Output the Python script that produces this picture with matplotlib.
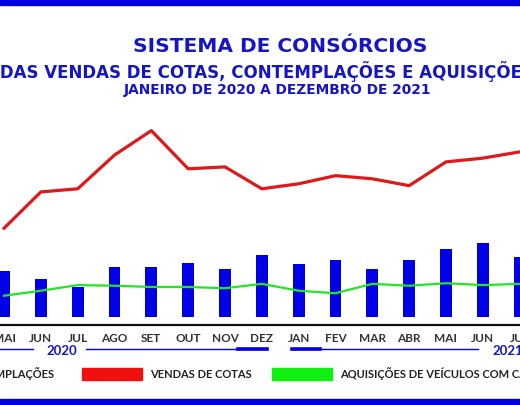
import matplotlib
matplotlib.use("Agg")
import matplotlib.pyplot as plt
from matplotlib.patches import Rectangle

# meses visiveis (mai/2020 a jul/2021)
meses = ["MAI", "JUN", "JUL", "AGO", "SET", "OUT", "NOV", "DEZ",
         "JAN", "FEV", "MAR", "ABR", "MAI", "JUN", "JUL"]
# valores estimados (mil)
contemplacoes = [74, 61, 48, 80, 80, 86, 77, 99, 85, 91, 77, 91, 109, 118, 96]
vendas_cotas = [142, 200, 205, 259, 298, 237, 240, 205, 213, 226, 221, 210, 248, 254, 264]
aquisicoes = [34, 42, 51, 50, 48, 48, 46, 53, 42, 38, 53, 50, 54, 51, 53]

AZUL = "#0000E6"
AZUL_TIT = "#1515C8"
VERMELHO = "#E01818"
VERDE = "#22E622"

W, H = 520, 405
fig = plt.figure(figsize=(W / 100, H / 100), dpi=100)
fig.patch.set_facecolor("white")

def px(x, y):
    return x / W, 1 - y / H

# eixo principal: y 110..325 px
ax = fig.add_axes([0, (H - 325) / H, 1, 215 / H])
x = list(range(len(meses)))
ax.bar(x, contemplacoes, width=0.32, color=AZUL, zorder=2)
ax.plot(x, vendas_cotas, color=VERMELHO, lw=2.3, zorder=3, solid_joinstyle="round")
ax.plot(x, aquisicoes, color=VERDE, lw=1.6, zorder=3)
ax.set_xlim(-0.11, 14.01)
ax.set_ylim(-12.8, 331)
for s in ["top", "left", "right"]:
    ax.spines[s].set_visible(False)
ax.spines["bottom"].set_linewidth(1.6)
ax.spines["bottom"].set_color("#111111")
ax.set_yticks([])
ax.set_xticks(x)
ax.set_xticklabels(meses, fontsize=8.5, fontweight="bold", color="#333333", family="Lato")
ax.tick_params(axis="x", length=0, pad=6)

# titulos
fig.text(*px(280, 47), "SISTEMA DE CONSÓRCIOS", ha="center", va="center",
         fontsize=14.5, fontweight="bold", color=AZUL_TIT, family="DejaVu Sans")

sub_kw = dict(va="center", fontsize=11.95, fontweight="bold", color=AZUL_TIT, family="DejaVu Sans")
renderer = fig.canvas.get_renderer()
prefixo = fig.text(0, 0, "EVOLUÇÃO ", alpha=0, **sub_kw)
larg = prefixo.get_window_extent(renderer).width
prefixo.remove()
fig.text(-larg / W, 1 - 72 / H, "EVOLUÇÃO DAS VENDAS DE COTAS, CONTEMPLAÇÕES E AQUISIÇÕES",
         ha="left", **sub_kw)
fig.text(*px(278, 90), "JANEIRO DE 2020 A DEZEMBRO DE 2021", ha="center", va="center",
         fontsize=9.9, fontweight="bold", color=AZUL_TIT, family="DejaVu Sans")

# anos com chaves
def linha(x0, x1, y, lw):
    fig.add_artist(plt.Line2D([x0 / W, x1 / W], [1 - y / H, 1 - y / H], color=AZUL, lw=lw))

linha(0, 33, 349, 1.0)
linha(86, 267, 349, 1.0)
linha(238, 267, 349, 2.6)
linha(292, 478, 349, 1.0)
linha(292, 320, 349, 2.6)
fig.text(*px(62, 351), "2020", ha="center", va="center", fontsize=9.5,
         fontweight="bold", color=AZUL_TIT, family="Lato")
fig.text(*px(492, 351), "2021", ha="left", va="center", fontsize=9.5,
         fontweight="bold", color=AZUL_TIT, family="Lato")

# legenda
leg_txt = dict(va="center", fontsize=8, fontweight="bold", color="#222222", family="Lato")
fig.text(*px(55, 374), "CONTEMPLAÇÕES", ha="right", **leg_txt)
fig.add_artist(Rectangle(px(82, 380), 60 / W, 12 / H, color="#F01010"))
fig.text(*px(150, 374), "VENDAS DE COTAS", ha="left", **leg_txt)
fig.add_artist(Rectangle(px(272, 380), 60 / W, 12 / H, color="#10F010"))
fig.text(*px(340, 374), "AQUISIÇÕES DE VEÍCULOS COM CARTA DE CRÉDITO", ha="left", **leg_txt)

# faixas azuis
fig.add_artist(Rectangle((0, 1 - 5 / H), 1, 5 / H, color="#0000DD"))
fig.add_artist(Rectangle((0, 0), 1, 6 / H, color="#0000DD"))

fig.savefig("out.png", dpi=100)
